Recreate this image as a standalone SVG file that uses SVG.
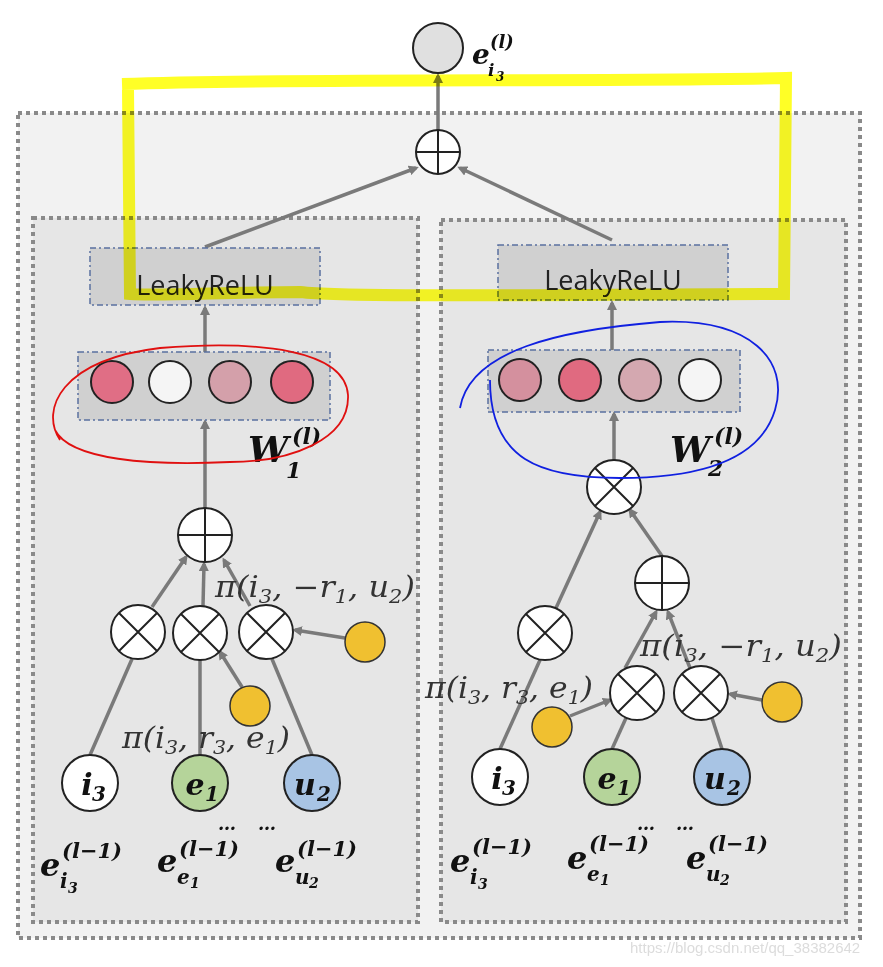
<svg xmlns="http://www.w3.org/2000/svg" width="883" height="967" viewBox="0 0 883 967">
<style>
.dot{fill:none;stroke:#8a8a8a;stroke-width:4;stroke-dasharray:4 4}
.op{fill:#fff;stroke:#222;stroke-width:2}
.opl{stroke:#222;stroke-width:2}
.e{stroke:#7a7a7a;stroke-width:3.5;fill:none}
.ea{stroke:#7a7a7a;stroke-width:3.5;fill:none;marker-end:url(#ah)}
.nd{stroke:#222;stroke-width:2}
.yl{fill:#f0c030;stroke:#333;stroke-width:1.5}
.m{font-family:"DejaVu Serif",serif;font-style:italic;font-weight:bold;fill:#111}
.p{font-family:"DejaVu Serif",serif;font-style:italic;fill:#333;font-size:29px}
.lr{font-family:"Open Sans","DejaVu Sans",sans-serif;font-size:27px;fill:#222}
.box{fill:#d0d0d0;stroke:#5a70a0;stroke-width:1.5;stroke-dasharray:6 3 2 3}
</style>
<defs>
<marker id="ah" markerWidth="10" markerHeight="10" refX="7" refY="5" orient="auto" markerUnits="userSpaceOnUse"><path d="M0,0 L10,5 L0,10 z" fill="#7a7a7a"/></marker>
</defs>
<rect width="883" height="967" fill="#fff"/>
<g id="containers">
<rect x="18" y="113" width="842" height="825" class="dot" style="fill:#f2f2f2"/>
<rect x="33" y="218" width="385" height="704" class="dot" style="fill:#e6e6e6"/>
<rect x="441" y="220" width="405" height="702" class="dot" style="fill:#e6e6e6"/>
</g>
<g id="connectors">
<line x1="438" y1="130" x2="438" y2="76" class="ea"/>
<line x1="205" y1="247" x2="416" y2="168" class="ea"/>
<line x1="612" y1="240" x2="460" y2="168" class="ea"/>
<line x1="205" y1="352" x2="205" y2="308" class="ea"/>
<line x1="612" y1="350" x2="612" y2="303" class="ea"/>
<line x1="205" y1="508" x2="205" y2="422" class="ea"/>
<line x1="614" y1="460" x2="614" y2="414" class="ea"/>
<line x1="90" y1="755" x2="132" y2="659" class="e"/>
<line x1="152" y1="607" x2="186" y2="557" class="ea"/>
<line x1="200" y1="755" x2="200" y2="660" class="e"/>
<line x1="203" y1="606" x2="204" y2="564" class="ea"/>
<line x1="312" y1="755" x2="272" y2="659" class="e"/>
<line x1="250" y1="606" x2="224" y2="560" class="ea"/>
<line x1="242" y1="687" x2="220" y2="652" class="ea"/>
<line x1="345" y1="638" x2="295" y2="630" class="ea"/>
<line x1="500" y1="749" x2="540" y2="660" class="e"/>
<line x1="556" y1="608" x2="600" y2="512" class="ea"/>
<line x1="662" y1="556" x2="630" y2="510" class="ea"/>
<line x1="625" y1="668" x2="656" y2="612" class="ea"/>
<line x1="690" y1="668" x2="668" y2="612" class="ea"/>
<line x1="612" y1="749" x2="626" y2="718" class="e"/>
<line x1="722" y1="749" x2="712" y2="718" class="e"/>
<line x1="570" y1="716" x2="610" y2="700" class="ea"/>
<line x1="762" y1="700" x2="730" y2="694" class="ea"/>
</g>
<g id="top-e"><circle cx="438" cy="48" r="25" fill="#e0e0e0" class="nd"/>
<text x="472" y="64" class="m" font-size="28">e</text><text x="488" y="76" class="m" font-size="17">i</text><text x="496" y="81" class="m" font-size="12">3</text><text x="490" y="48" class="m" font-size="18">(l)</text></g>
<g id="top-plus"><circle cx="438" cy="152" r="22" class="op"/><path d="M416,152H460M438,130V174" class="opl"/></g>
<g id="leaky-left"><rect x="90" y="248" width="230" height="57" class="box"/><text x="205" y="295" text-anchor="middle" class="lr">LeakyReLU</text></g>
<g id="leaky-right"><rect x="498" y="245" width="230" height="55" class="box"/><text x="613" y="290" text-anchor="middle" class="lr">LeakyReLU</text></g>
<g id="vec-left"><rect x="78" y="352" width="252" height="68" class="box"/>
<circle cx="112" cy="382" r="21" fill="#e06e85" class="nd"/><circle cx="170" cy="382" r="21" fill="#f5f5f5" class="nd"/><circle cx="230" cy="382" r="21" fill="#d4a0aa" class="nd"/><circle cx="292" cy="382" r="21" fill="#e06a80" class="nd"/></g>
<g id="vec-right"><rect x="488" y="350" width="252" height="62" class="box"/>
<circle cx="520" cy="380" r="21" fill="#d4909e" class="nd"/><circle cx="580" cy="380" r="21" fill="#e06a80" class="nd"/><circle cx="640" cy="380" r="21" fill="#d4a8b0" class="nd"/><circle cx="700" cy="380" r="21" fill="#f5f5f5" class="nd"/></g>
<g id="w-labels">
<text x="248" y="462" class="m" font-size="36">W</text><text x="286" y="478" class="m" font-size="22">1</text><text x="292" y="444" class="m" font-size="22">(l)</text>
<text x="670" y="462" class="m" font-size="36">W</text><text x="708" y="476" class="m" font-size="22">2</text><text x="714" y="444" class="m" font-size="22">(l)</text>
</g>
<g id="left-ops">
<circle cx="205" cy="535" r="27" class="op"/><path d="M178,535H232M205,508V562" class="opl"/>
<g class="opl"><circle cx="138" cy="632" r="27" class="op"/><path d="M119,613L157,651M157,613L119,651"/>
<circle cx="200" cy="633" r="27" class="op"/><path d="M181,614L219,652M219,614L181,652"/>
<circle cx="266" cy="632" r="27" class="op"/><path d="M247,613L285,651M285,613L247,651"/></g>
<circle cx="250" cy="706" r="20" class="yl"/><circle cx="365" cy="642" r="20" class="yl"/>
</g>
<g id="left-nodes">
<circle cx="90" cy="783" r="28" fill="#fff" class="nd"/><text x="87" y="795" text-anchor="middle" class="m" font-size="30">i</text><text x="99" y="801" class="m" font-size="20" text-anchor="middle">3</text>
<circle cx="200" cy="783" r="28" fill="#b5d49a" class="nd"/><text x="195" y="795" text-anchor="middle" class="m" font-size="30">e</text><text x="212" y="801" class="m" font-size="20" text-anchor="middle">1</text>
<circle cx="312" cy="783" r="28" fill="#a8c4e4" class="nd"/><text x="305" y="795" text-anchor="middle" class="m" font-size="30">u</text><text x="324" y="801" class="m" font-size="20" text-anchor="middle">2</text>
</g>
<g id="right-ops">
<g class="opl"><circle cx="614" cy="487" r="27" class="op"/><path d="M595,468L633,506M633,468L595,506"/></g>
<circle cx="662" cy="583" r="27" class="op"/><path d="M635,583H689M662,556V610" class="opl"/>
<g class="opl"><circle cx="545" cy="633" r="27" class="op"/><path d="M526,614L564,652M564,614L526,652"/>
<circle cx="637" cy="693" r="27" class="op"/><path d="M618,674L656,712M656,674L618,712"/>
<circle cx="701" cy="693" r="27" class="op"/><path d="M682,674L720,712M720,674L682,712"/></g>
<circle cx="552" cy="727" r="20" class="yl"/><circle cx="782" cy="702" r="20" class="yl"/>
</g>
<g id="right-nodes">
<circle cx="500" cy="777" r="28" fill="#fff" class="nd"/><text x="497" y="789" text-anchor="middle" class="m" font-size="30">i</text><text x="509" y="795" class="m" font-size="20" text-anchor="middle">3</text>
<circle cx="612" cy="777" r="28" fill="#b5d49a" class="nd"/><text x="607" y="789" text-anchor="middle" class="m" font-size="30">e</text><text x="624" y="795" class="m" font-size="20" text-anchor="middle">1</text>
<circle cx="722" cy="777" r="28" fill="#a8c4e4" class="nd"/><text x="715" y="789" text-anchor="middle" class="m" font-size="30">u</text><text x="734" y="795" class="m" font-size="20" text-anchor="middle">2</text>
</g>
<g id="pi-labels">
<text x="215" y="597" class="p" textLength="200" lengthAdjust="spacingAndGlyphs">π(i<tspan font-size="19" dy="6">3</tspan><tspan dy="-6">, −r</tspan><tspan font-size="19" dy="6">1</tspan><tspan dy="-6">, u</tspan><tspan font-size="19" dy="6">2</tspan><tspan dy="-6">)</tspan></text>
<text x="122" y="748" class="p" textLength="168" lengthAdjust="spacingAndGlyphs">π(i<tspan font-size="19" dy="6">3</tspan><tspan dy="-6">, r</tspan><tspan font-size="19" dy="6">3</tspan><tspan dy="-6">, e</tspan><tspan font-size="19" dy="6">1</tspan><tspan dy="-6">)</tspan></text>
<text x="425" y="698" class="p" textLength="168" lengthAdjust="spacingAndGlyphs">π(i<tspan font-size="19" dy="6">3</tspan><tspan dy="-6">, r</tspan><tspan font-size="19" dy="6">3</tspan><tspan dy="-6">, e</tspan><tspan font-size="19" dy="6">1</tspan><tspan dy="-6">)</tspan></text>
<text x="640" y="656" class="p" textLength="202" lengthAdjust="spacingAndGlyphs">π(i<tspan font-size="19" dy="6">3</tspan><tspan dy="-6">, −r</tspan><tspan font-size="19" dy="6">1</tspan><tspan dy="-6">, u</tspan><tspan font-size="19" dy="6">2</tspan><tspan dy="-6">)</tspan></text>
</g>
<g id="bottom-labels" class="m">
<text x="40" y="876" font-size="32">e</text><text x="60" y="888" font-size="20">i</text><text x="68" y="893" font-size="14">3</text><text x="62" y="858" font-size="21">(l−1)</text>
<text x="157" y="872" font-size="32">e</text><text x="177" y="884" font-size="20">e</text><text x="190" y="888" font-size="14">1</text><text x="179" y="856" font-size="21">(l−1)</text>
<text x="275" y="872" font-size="32">e</text><text x="295" y="884" font-size="20">u</text><text x="309" y="888" font-size="14">2</text><text x="297" y="856" font-size="21">(l−1)</text>
<text x="450" y="872" font-size="32">e</text><text x="470" y="884" font-size="20">i</text><text x="478" y="889" font-size="14">3</text><text x="472" y="854" font-size="21">(l−1)</text>
<text x="567" y="869" font-size="32">e</text><text x="587" y="881" font-size="20">e</text><text x="600" y="885" font-size="14">1</text><text x="589" y="851" font-size="21">(l−1)</text>
<text x="686" y="869" font-size="32">e</text><text x="706" y="881" font-size="20">u</text><text x="720" y="885" font-size="14">2</text><text x="708" y="851" font-size="21">(l−1)</text>
<text x="218" y="830" font-size="18">…</text><text x="258" y="830" font-size="18">…</text>
<text x="637" y="830" font-size="18">…</text><text x="676" y="830" font-size="18">…</text>
</g>
<g id="annotations" fill="none">
<path d="M122,84 C300,78 600,82 786,78 L784,294 C600,294 350,298 300,292 C230,292 160,296 130,294 L128,90" stroke="#ffff00" stroke-width="12" opacity="0.85" style="mix-blend-mode:multiply"/>
<path d="M60,440 C40,410 60,360 160,348 C260,340 345,350 348,395 C350,440 290,462 230,462 C150,466 70,460 55,430" stroke="#e01010" stroke-width="1.8"/>
<path d="M460,408 C470,350 560,330 660,322 C750,318 790,360 775,410 C760,460 700,478 620,478 C540,478 490,460 490,380" stroke="#1020e0" stroke-width="1.8"/>
</g>
<text x="630" y="953" font-family="Liberation Sans,sans-serif" font-size="15" fill="#dcdcdc">https://blog.csdn.net/qq_38382642</text>
</svg>
